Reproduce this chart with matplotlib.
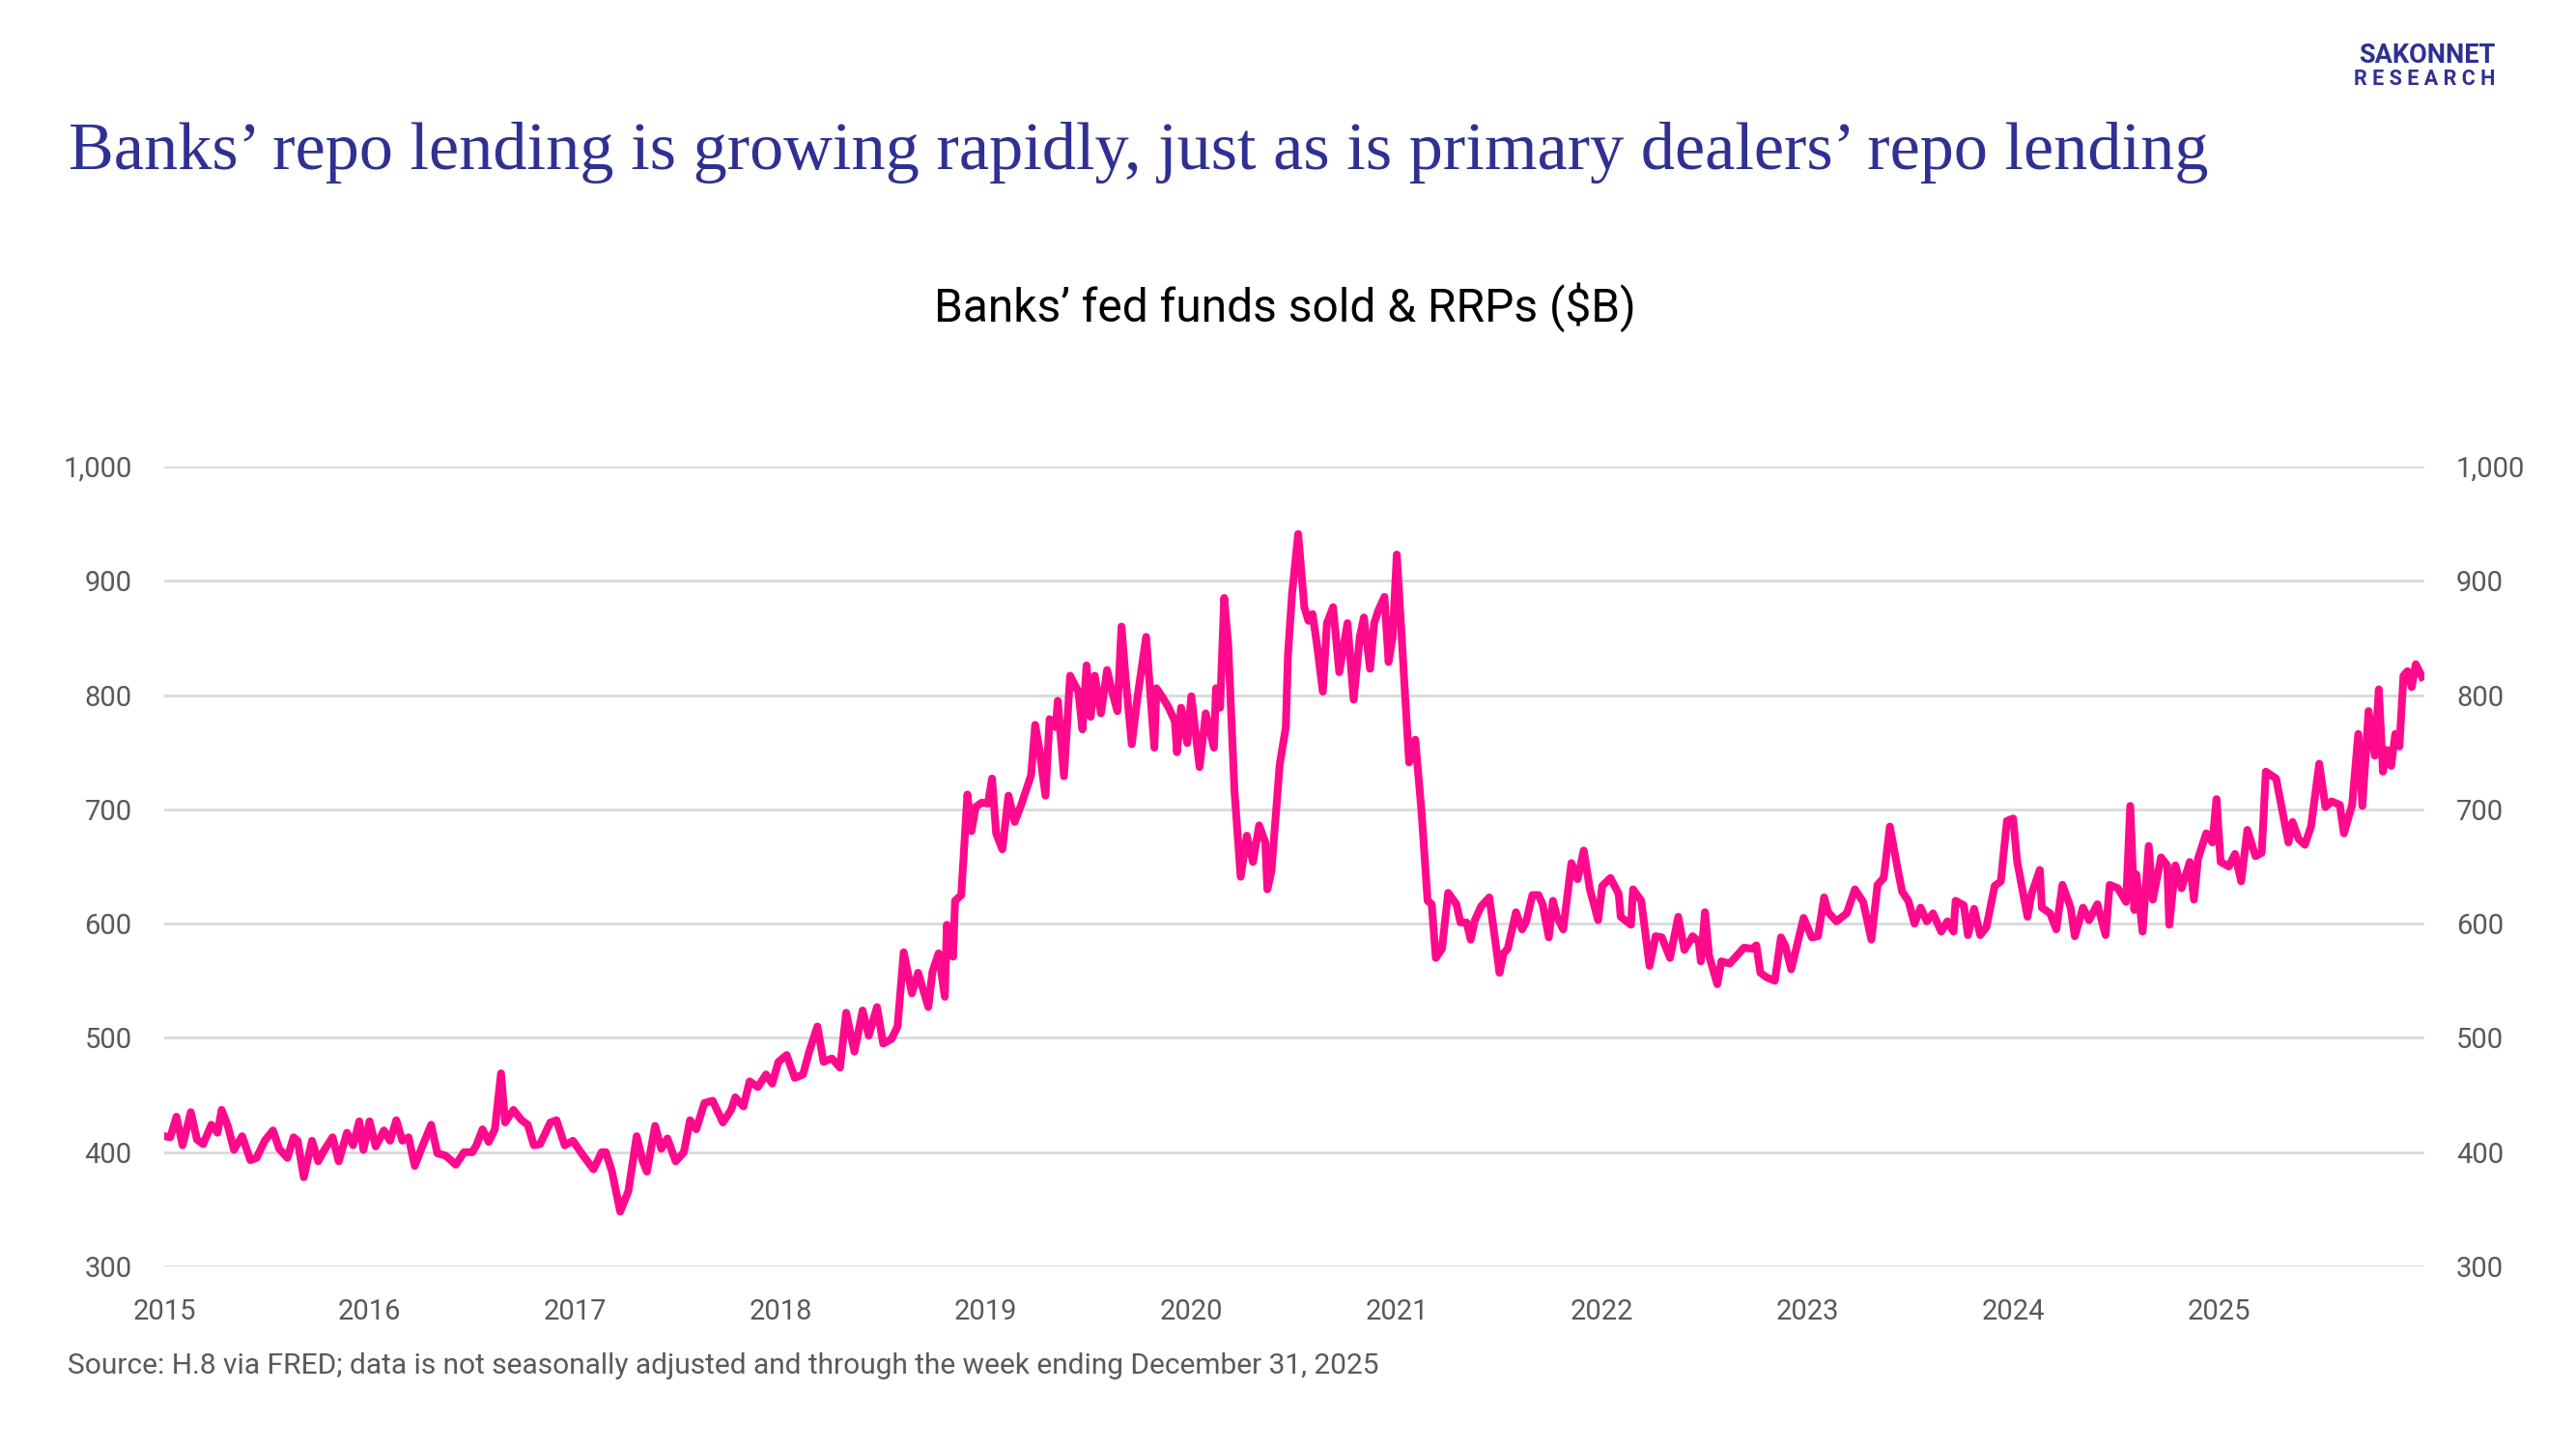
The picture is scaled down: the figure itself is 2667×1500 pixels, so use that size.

import matplotlib
matplotlib.use("Agg")
import matplotlib.pyplot as plt

TITLE = "Banks\u2019 repo lending is growing rapidly, just as is primary dealers\u2019 repo lending"
SUBTITLE = "Banks\u2019 fed funds sold & RRPs ($B)"
SOURCE = ("Source: H.8 via FRED; data is not seasonally adjusted and through the "
          "week ending December 31, 2025")

NAVY = "#2E3192"
PINK = "#FF0A8C"
GRID = "#D9D9D9"
LABEL = "#595959"

# decimal year of each reading
years = [
    2015.00, 2015.03, 2015.06, 2015.09, 2015.13, 2015.16, 2015.19, 2015.23, 2015.26, 2015.28,
    2015.31, 2015.34, 2015.38, 2015.42, 2015.45, 2015.49, 2015.53, 2015.56, 2015.60, 2015.63,
    2015.65, 2015.68, 2015.72, 2015.75, 2015.78, 2015.82, 2015.85, 2015.89, 2015.92, 2015.95,
    2015.97,
    2016.00, 2016.03, 2016.07, 2016.10, 2016.13, 2016.16, 2016.19, 2016.22, 2016.25, 2016.30,
    2016.33, 2016.37, 2016.42, 2016.46, 2016.50, 2016.52, 2016.55, 2016.58, 2016.61, 2016.64,
    2016.66, 2016.70, 2016.74, 2016.77, 2016.80, 2016.83, 2016.88, 2016.91, 2016.95, 2016.99,
    2017.04, 2017.09, 2017.13, 2017.15, 2017.18, 2017.22, 2017.26, 2017.30, 2017.33, 2017.35,
    2017.39, 2017.42, 2017.45, 2017.49, 2017.53, 2017.56, 2017.59, 2017.63, 2017.67, 2017.72,
    2017.76, 2017.78, 2017.82, 2017.85, 2017.89, 2017.93, 2017.96, 2017.99,
    2018.03, 2018.07, 2018.11, 2018.14, 2018.18, 2018.21, 2018.25, 2018.29, 2018.32, 2018.36,
    2018.40, 2018.43, 2018.47, 2018.50, 2018.54, 2018.57, 2018.60, 2018.64, 2018.67, 2018.72,
    2018.74, 2018.77, 2018.80, 2018.81, 2018.84, 2018.85, 2018.88, 2018.91, 2018.93, 2018.95,
    2018.98,
    2019.01, 2019.03, 2019.05, 2019.08, 2019.11, 2019.14, 2019.17, 2019.20, 2019.22, 2019.24,
    2019.26, 2019.29, 2019.31, 2019.34, 2019.35, 2019.38, 2019.41, 2019.45, 2019.47, 2019.49,
    2019.51, 2019.53, 2019.56, 2019.59, 2019.61, 2019.64, 2019.66, 2019.68, 2019.71, 2019.74,
    2019.78, 2019.82, 2019.83, 2019.86, 2019.89, 2019.92, 2019.93, 2019.95, 2019.98,
    2020.00, 2020.04, 2020.07, 2020.11, 2020.12, 2020.14, 2020.16, 2020.18, 2020.21, 2020.24,
    2020.27, 2020.30, 2020.33, 2020.36, 2020.37, 2020.39, 2020.43, 2020.46, 2020.47, 2020.49,
    2020.52, 2020.55, 2020.57, 2020.59, 2020.61, 2020.64, 2020.66, 2020.69, 2020.72, 2020.76,
    2020.79, 2020.82, 2020.84, 2020.87, 2020.89, 2020.91, 2020.94, 2020.96, 2020.98,
    2021.00, 2021.02, 2021.04, 2021.06, 2021.09, 2021.12, 2021.15, 2021.17, 2021.19, 2021.22,
    2021.25, 2021.29, 2021.31, 2021.34, 2021.36, 2021.38, 2021.41, 2021.45, 2021.48, 2021.50,
    2021.52, 2021.54, 2021.58, 2021.61, 2021.63, 2021.66, 2021.69, 2021.71, 2021.74, 2021.76,
    2021.78, 2021.81, 2021.85, 2021.88, 2021.91, 2021.94, 2021.98,
    2022.00, 2022.04, 2022.08, 2022.09, 2022.14, 2022.15, 2022.19, 2022.23, 2022.26, 2022.29,
    2022.33, 2022.37, 2022.40, 2022.44, 2022.47, 2022.48, 2022.50, 2022.52, 2022.56, 2022.58,
    2022.62, 2022.65, 2022.69, 2022.73, 2022.75, 2022.77, 2022.80, 2022.84, 2022.87, 2022.89,
    2022.92, 2022.98,
    2023.02, 2023.05, 2023.08, 2023.10, 2023.14, 2023.19, 2023.23, 2023.27, 2023.31, 2023.34,
    2023.37, 2023.40, 2023.44, 2023.46, 2023.49, 2023.52, 2023.55, 2023.58, 2023.61, 2023.65,
    2023.68, 2023.71, 2023.72, 2023.76, 2023.78, 2023.81, 2023.84, 2023.87, 2023.91, 2023.94,
    2023.97,
    2024.00, 2024.02, 2024.07, 2024.09, 2024.13, 2024.14, 2024.18, 2024.21, 2024.24, 2024.28,
    2024.30, 2024.34, 2024.37, 2024.41, 2024.45, 2024.47, 2024.51, 2024.55, 2024.57, 2024.59,
    2024.60, 2024.63, 2024.66, 2024.68, 2024.72, 2024.75, 2024.76, 2024.79, 2024.82, 2024.86,
    2024.88, 2024.90, 2024.94, 2024.97, 2024.99,
    2025.01, 2025.05, 2025.08, 2025.11, 2025.14, 2025.18, 2025.21, 2025.23, 2025.28, 2025.34,
    2025.36, 2025.39, 2025.42, 2025.45, 2025.49, 2025.52, 2025.55, 2025.59, 2025.61, 2025.65,
    2025.68, 2025.70, 2025.73, 2025.76, 2025.78, 2025.80, 2025.82, 2025.84, 2025.86, 2025.88,
    2025.90, 2025.92, 2025.94, 2025.96, 2025.99,
]

# $B, fed funds sold & reverse repos of all commercial banks
values = [
    414, 413, 431, 406, 435, 411, 407, 424, 417, 437,
    423, 402, 414, 393, 395, 410, 419, 403, 395, 413,
    410, 378, 410, 392, 402, 413, 392, 417, 406, 427,
    402,
    427, 405, 419, 410, 428, 410, 413, 388, 402, 424,
    399, 397, 389, 400, 400, 406, 420, 409, 420, 469,
    426, 437, 428, 424, 406, 407, 426, 428, 406, 410,
    397, 385, 400, 400, 383, 348, 366, 414, 392, 383,
    423, 403, 412, 392, 400, 428, 420, 443, 445, 426,
    437, 448, 440, 462, 457, 468, 460, 479,
    485, 465, 468, 488, 510, 479, 482, 474, 522, 488,
    524, 502, 527, 495, 499, 510, 575, 539, 557, 527,
    558, 574, 536, 599, 571, 620, 625, 713, 681, 702,
    706,
    705, 727, 679, 665, 712, 689, 703, 719, 730, 774,
    753, 712, 779, 772, 795, 729, 817, 803, 770, 826,
    781, 817, 784, 822, 806, 786, 860, 815, 757, 801,
    851, 754, 806, 798, 789, 777, 750, 789, 758,
    799, 737, 784, 754, 806, 789, 885, 843, 716, 641,
    677, 654, 686, 671, 630, 646, 739, 772, 834, 888,
    941, 877, 865, 871, 846, 803, 863, 877, 820, 863,
    796, 851, 868, 823, 863, 874, 886, 829, 851,
    923, 863, 801, 741, 761, 699, 620, 617, 570, 578,
    627, 617, 601, 601, 586, 603, 615, 623, 584, 557,
    574, 578, 610, 595, 602, 625, 625, 617, 588, 620,
    606, 595, 653, 639, 664, 630, 603,
    633, 640, 626, 606, 599, 630, 620, 563, 589, 588,
    570, 606, 577, 589, 584, 567, 610, 572, 547, 567,
    565, 571, 579, 578, 581, 557, 553, 550, 588, 581,
    560, 605,
    588, 589, 623, 610, 602, 609, 630, 619, 586, 634,
    640, 685, 646, 628, 620, 600, 614, 602, 609, 593,
    602, 593, 620, 616, 590, 613, 590, 597, 633, 637,
    690,
    692, 654, 606, 626, 647, 614, 609, 595, 634, 614,
    589, 614, 603, 617, 590, 634, 631, 619, 703, 612,
    643, 593, 668, 621, 658, 651, 599, 651, 631, 654,
    621, 657, 679, 671, 709,
    654, 650, 661, 637, 682, 659, 662, 733, 727, 671,
    689, 674, 669, 685, 740, 702, 707, 704, 679, 704,
    766, 703, 786, 747, 805, 733, 752, 738, 766, 755,
    817, 821, 807, 827, 816,
]

year_ticks = list(range(2015, 2026))
value_ticks = [300, 400, 500, 600, 700, 800, 900, 1000]

plt.rcParams["font.family"] = ["Roboto", "DejaVu Sans"]

fig = plt.figure(figsize=(26.67, 15), dpi=100)
ax = fig.add_axes([0.0637, 0.126, 0.8773, 0.552])

ax.plot(years, values, color=PINK, lw=5.8, solid_joinstyle="round", zorder=3)

ax.set_xlim(2015, 2026)
ax.set_ylim(300, 1000)
ax.set_xticks(year_ticks)
ax.set_xticklabels([str(y) for y in year_ticks])
ax.set_yticks(value_ticks)
ax.set_yticklabels([f"{v:,}" for v in value_ticks])

ax.grid(axis="y", color=GRID, lw=2, zorder=0)
ax.grid(axis="x", visible=False)
for side in ax.spines.values():
    side.set_visible(False)
ax.tick_params(axis="both", length=0, labelsize=21, labelcolor=LABEL)
ax.tick_params(axis="y", labelright=True, pad=24)
ax.tick_params(axis="x", pad=24)

fig.text(0.0268, 0.883, TITLE, family="Liberation Serif", fontsize=50.6,
         color=NAVY, ha="left", va="baseline")
fig.text(0.4987, 0.788, SUBTITLE, fontsize=34.5, color="black", ha="center", va="center")
fig.text(0.0261, 0.057, SOURCE, fontsize=21.5, color=LABEL, ha="left", va="center")

# logo
fig.text(0.9687, 0.9615, "SAKONNET", fontsize=19.5, fontweight="bold", color=NAVY,
         ha="right", va="center")
fig.text(0.9687, 0.9455, "R E S E A R C H", fontsize=15.5, fontweight="bold", color=NAVY,
         ha="right", va="center")

fig.savefig("out.png", dpi=100, facecolor="white")
